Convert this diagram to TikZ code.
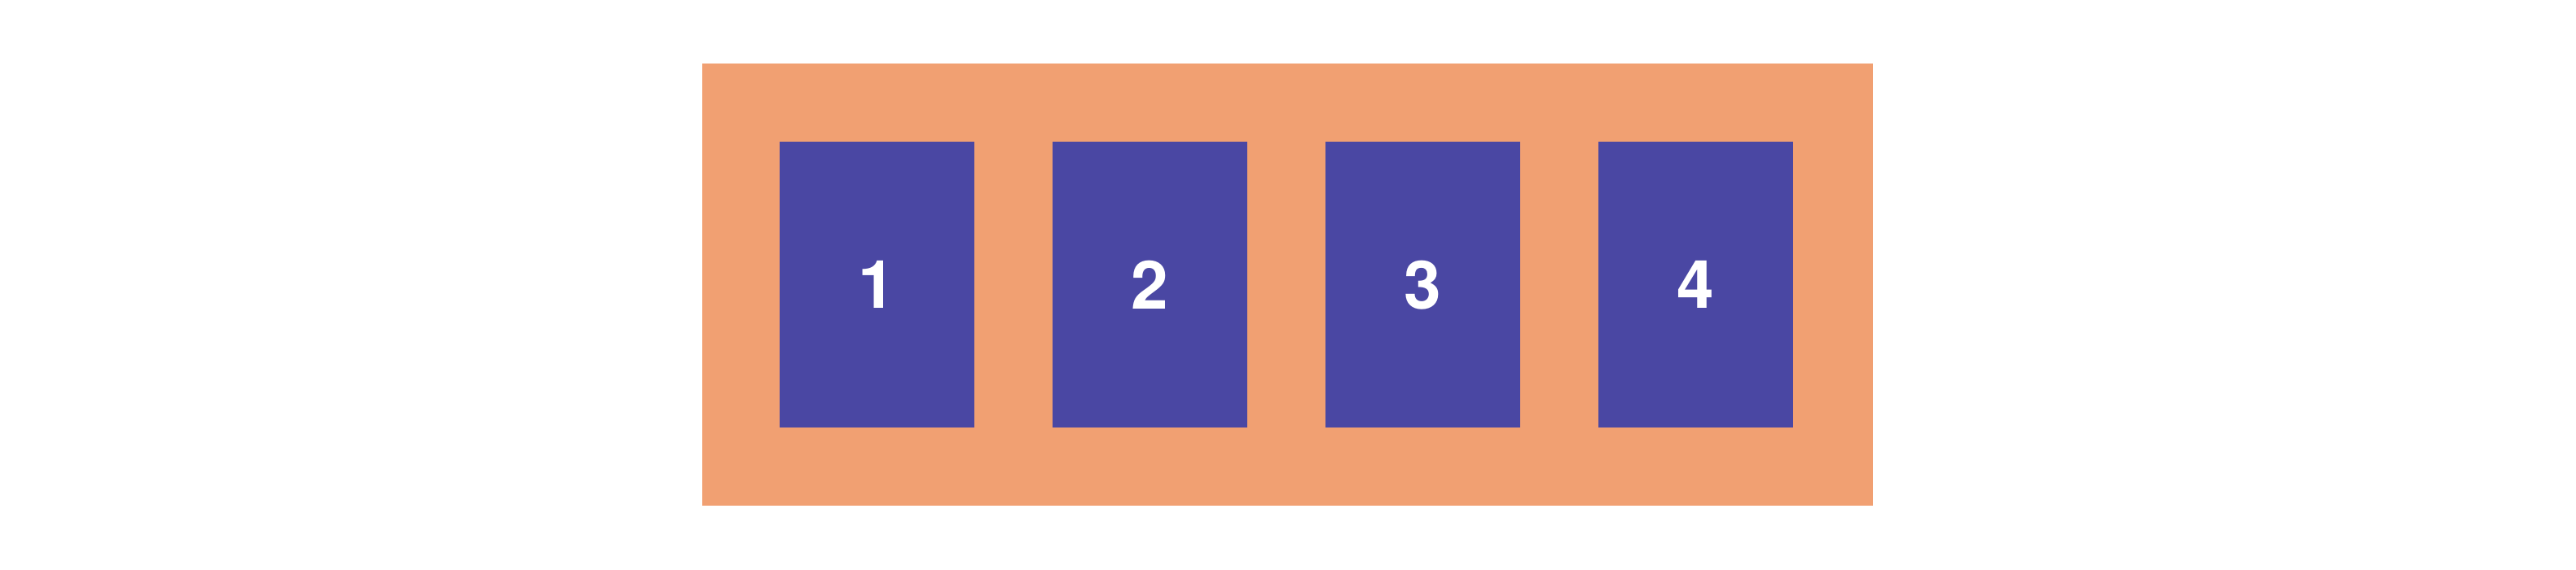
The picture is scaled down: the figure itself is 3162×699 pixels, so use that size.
\documentclass[tikz,border=0pt]{standalone}
\usepackage{fontspec}
\setmainfont{TeX Gyre Heros}
\definecolor{outerc}{HTML}{F1A072}
\definecolor{innerc}{HTML}{4A47A3}
\begin{document}
\begin{tikzpicture}[x=1pt,y=-1pt,
  cell/.style={fill=innerc,draw=none,minimum width=239pt,minimum height=351pt,inner sep=0pt,
    text=white,font=\fontsize{82}{98}\selectfont\bfseries,anchor=north west}]
\useasboundingbox (0,0) rectangle (3162,699);
\fill[outerc] (862,78) rectangle (2299,621);
\node[cell] (c1) at (957,174) {1};
\node[cell] (c2) at (1292,174) {2};
\node[cell] (c3) at (1627,174) {3};
\node[cell] (c4) at (1962,174) {4};
\end{tikzpicture}
\end{document}
